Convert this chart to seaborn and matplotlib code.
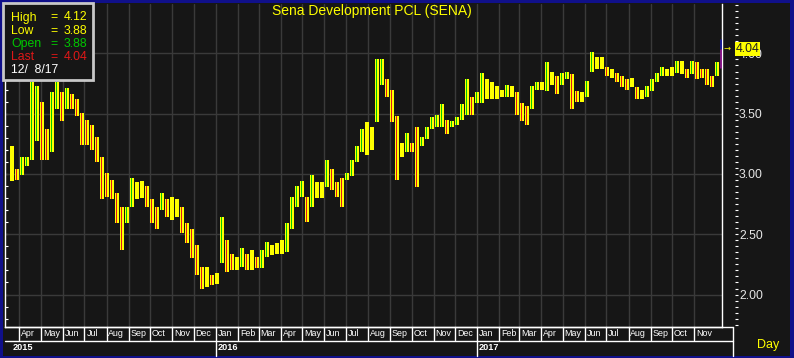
import numpy as np
import pandas as pd
import seaborn as sns
import matplotlib
matplotlib.use("Agg")
import matplotlib.pyplot as plt
from matplotlib.patches import Rectangle
from matplotlib.lines import Line2D
from matplotlib.ticker import MultipleLocator, FormatStrFormatter
from matplotlib import transforms

W, H = 794, 358

# weekly high / low, first week ending 2015-03-22
week_start = "2015-03-22"
high = [3.23, 3.04, 3.14, 3.14, 3.76, 3.73, 3.60, 3.37, 3.68, 3.76,
        3.68, 3.71, 3.66, 3.62, 3.51, 3.45, 3.41, 3.31, 3.14, 3.01,
        2.95, 2.84, 2.73, 2.73, 2.97, 2.93, 2.94, 2.90, 2.79, 2.73,
        2.84, 2.79, 2.81, 2.79, 2.73, 2.59, 2.54, 2.41, 2.23, 2.23,
        2.16, 2.18, 2.64, 2.45, 2.34, 2.31, 2.39, 2.34, 2.37, 2.31,
        2.37, 2.44, 2.41, 2.43, 2.45, 2.59, 2.81, 2.90, 2.94, 2.81,
        2.99, 2.93, 2.93, 3.12, 3.04, 2.93, 2.97, 3.01, 3.12, 3.23,
        3.37, 3.43, 3.39, 3.95, 3.95, 3.79, 3.70, 3.48, 3.26, 3.34,
        3.26, 3.39, 3.31, 3.39, 3.47, 3.49, 3.58, 3.45, 3.44, 3.47,
        3.58, 3.79, 3.64, 3.68, 3.84, 3.79, 3.76, 3.73, 3.70, 3.74,
        3.73, 3.68, 3.59, 3.56, 3.73, 3.76, 3.76, 3.93, 3.85, 3.81,
        3.84, 3.85, 3.83, 3.69, 3.68, 3.77, 4.01, 3.97, 3.97, 3.89,
        3.87, 3.84, 3.81, 3.79, 3.80, 3.72, 3.70, 3.73, 3.79, 3.84,
        3.89, 3.87, 3.89, 3.94, 3.94, 3.87, 3.94, 3.93, 3.87, 3.87,
        3.81, 3.93]
low = [2.94, 2.95, 2.99, 3.07, 3.12, 3.27, 3.12, 3.12, 3.18, 3.54,
       3.44, 3.54, 3.54, 3.48, 3.24, 3.24, 3.20, 3.10, 2.79, 2.81,
       2.79, 2.59, 2.37, 2.59, 2.73, 2.79, 2.80, 2.73, 2.59, 2.54,
       2.70, 2.64, 2.62, 2.64, 2.51, 2.43, 2.30, 2.16, 2.05, 2.06,
       2.08, 2.09, 2.26, 2.19, 2.20, 2.20, 2.23, 2.20, 2.20, 2.22,
       2.22, 2.31, 2.33, 2.34, 2.34, 2.35, 2.54, 2.73, 2.81, 2.60,
       2.73, 2.80, 2.80, 2.89, 2.87, 2.81, 2.73, 2.95, 2.98, 3.10,
       3.18, 3.16, 3.20, 3.43, 3.74, 3.64, 3.43, 2.95, 3.14, 3.18,
       3.18, 2.89, 3.23, 3.29, 3.37, 3.39, 3.39, 3.33, 3.39, 3.41,
       3.45, 3.49, 3.49, 3.59, 3.59, 3.62, 3.62, 3.62, 3.64, 3.64,
       3.64, 3.49, 3.44, 3.41, 3.54, 3.70, 3.70, 3.69, 3.74, 3.66,
       3.74, 3.79, 3.54, 3.60, 3.60, 3.64, 3.85, 3.87, 3.87, 3.81,
       3.80, 3.76, 3.72, 3.70, 3.72, 3.62, 3.62, 3.64, 3.69, 3.76,
       3.81, 3.81, 3.81, 3.84, 3.83, 3.80, 3.83, 3.79, 3.80, 3.74,
       3.72, 3.81]

# last session (info box)
last_date = "2017-12-08"
last_high, last_low, last_open, last_close = 4.12, 3.88, 3.88, 4.04
info_date = "12/  8/17"
title = "Sena Development PCL (SENA)"
years = ["2015", "2016", "2017"]
price_ticks = [2.00, 2.50, 3.00, 3.50, 4.00]

BG = "#161616"
GRID = "#3a3a3a"
NAVY = "#10108a"
YEL = "#ffff00"
GRN = "#00c800"
RED = "#e01818"

sns.set_theme(style="dark")
plt.rcParams["font.family"] = ["Liberation Sans", "DejaVu Sans"]

fig = plt.figure(figsize=(W / 100, H / 100), dpi=100, facecolor=NAVY)


def fx(px):
    return px / W


def fy(py):
    return 1 - py / H


fig.add_artist(Rectangle((fx(3), fy(356)), fx(790) - fx(3), fy(3) - fy(356),
                         transform=fig.transFigure, facecolor=BG, edgecolor="none", zorder=-10))

ax = fig.add_axes([fx(4.5), fy(326.5), fx(722) - fx(4.5), fy(4) - fy(326.5)])
ax.set_facecolor(BG)
x0, x1 = pd.Timestamp("2015-03-11"), pd.Timestamp("2017-12-09 20:00")
ylim = (1.735, 4.41)
ax.set_xlim(x0, x1)
ax.set_ylim(*ylim)

month_starts = pd.date_range("2015-04-01", "2017-11-01", freq="MS")
for m in month_starts:
    ax.axvline(m, color=GRID, lw=1, zorder=1)
for p in price_ticks:
    ax.axhline(p, color=GRID, lw=1, zorder=1)

# bars
dates = pd.date_range(week_start, periods=len(high), freq="7D")
hi = np.array(high)
lo = np.array(low)
mid = (hi + lo) / 2
chg = np.diff(mid, prepend=mid[0])
ax.bar(dates, hi - lo, bottom=lo, width=6.0, color=YEL, linewidth=0, zorder=3)
up = chg > 0.02
dn = chg < -0.02
ax.bar(dates[up] - pd.Timedelta(days=1.0), (hi - lo)[up], bottom=lo[up], width=1.6,
       color=GRN, linewidth=0, zorder=4)
ax.bar(dates[dn] - pd.Timedelta(days=1.0), (hi - lo)[dn], bottom=lo[dn], width=1.6,
       color=RED, linewidth=0, zorder=4)

ld = pd.Timestamp(last_date)
ax.vlines(ld, last_close, last_high, color="#1c1c9a", lw=2, zorder=5)
ax.vlines(ld, last_low, last_close, color="#8c1a8c", lw=2, zorder=5)

for s in ["left", "right", "bottom"]:
    ax.spines[s].set_color("white")
    ax.spines[s].set_linewidth(1)
ax.spines["top"].set_visible(False)
ax.yaxis.set_major_locator(MultipleLocator(0.1))
ax.tick_params(axis="y", direction="in", length=2.5, width=0.8, color="white",
               labelleft=False, left=True, right=False)
ax.tick_params(axis="x", length=0, labelbottom=False)
ax.grid(False)

# price scale on the right
ax2 = ax.twinx()
ax2.set_ylim(*ylim)
for s in ax2.spines.values():
    s.set_visible(False)
ax2.spines["right"].set_position(("outward", 9))
ax2.yaxis.set_major_locator(MultipleLocator(0.5))
ax2.yaxis.set_minor_locator(MultipleLocator(0.05))
ax2.yaxis.set_major_formatter(FormatStrFormatter("%.2f"))
ax2.tick_params(axis="y", which="both", direction="out", length=2.3, width=0.8,
                color="white", labelcolor="#e6e6e6", labelsize=8.8, pad=1)
ax2.grid(False)

yt = ax2.get_yaxis_transform()
ax2.text(1 + 13.5 / (722 - 4.5), last_close, f"{last_close:.2f}", transform=yt,
         color="#202020", fontsize=8.8, va="center", ha="left", zorder=20,
         bbox=dict(boxstyle="square,pad=0.08", fc=YEL, ec="none"))
ax2.text(1 + 1 / (722 - 4.5), last_close, "\u2192", transform=yt, color=YEL,
         fontsize=6, va="center", ha="left", family="DejaVu Sans")

# month / year band
trans = transforms.blended_transform_factory(ax.transData, fig.transFigure)
off = pd.Timedelta(days=2.6)
for m in month_starts:
    bottom = 356 if m.month == 1 else 340
    ax.add_line(Line2D([m, m], [fy(327), fy(bottom)], transform=trans, color="white",
                       lw=1, clip_on=False))
    ax.text(m + off, fy(334), m.strftime("%b"), transform=trans, color="white",
            fontsize=6.4, va="center", ha="left", clip_on=False)
for yx, yr in zip([13, None, None], years):
    if yx is not None:
        fig.text(fx(yx), fy(348), yr, color="white", fontsize=6.6, weight="bold",
                 va="center", ha="left")
    else:
        ax.text(pd.Timestamp(f"{yr}-01-01") + off, fy(348), yr, transform=trans,
                color="white", fontsize=6.6, weight="bold", va="center", ha="left",
                clip_on=False)
for yy in [327, 340.5]:
    fig.add_artist(Line2D([fx(4.5), fx(733)], [fy(yy), fy(yy)], transform=fig.transFigure,
                          color="white", lw=1))
fig.add_artist(Line2D([fx(733), fx(733)], [fy(327), fy(356)], transform=fig.transFigure,
                      color="white", lw=1))
fig.text(fx(757), fy(345), "Day", color=YEL, fontsize=9, va="center", ha="left")

# title
fig.text(fx(372), fy(11), title, color=YEL, fontsize=10, va="center", ha="center")

# info box
fig.add_artist(Rectangle((fx(3), fy(80)), fx(93) - fx(3), fy(3) - fy(80),
                         transform=fig.transFigure, facecolor=BG, edgecolor="#c8c8c8",
                         lw=2, zorder=10))
rows = [("High", last_high, YEL), ("Low", last_low, YEL),
        ("Open", last_open, GRN), ("Last", last_close, RED)]
for i, (lab, val, c) in enumerate(rows):
    yy = fy(17.5 + i * 13.1)
    fig.text(fx(11), yy, lab, color=c, fontsize=8.8, va="center", ha="left", zorder=11)
    fig.text(fx(54), yy, "=", color=c, fontsize=8.8, va="center", ha="center", zorder=11)
    fig.text(fx(87.5), yy, f"{val:.2f}", color=c, fontsize=8.8, va="center", ha="right",
             zorder=11)
fig.text(fx(11), fy(70), info_date, color="white", fontsize=8.8, va="center", ha="left",
         zorder=11)

fig.savefig("out.png", dpi=100, facecolor=NAVY)
